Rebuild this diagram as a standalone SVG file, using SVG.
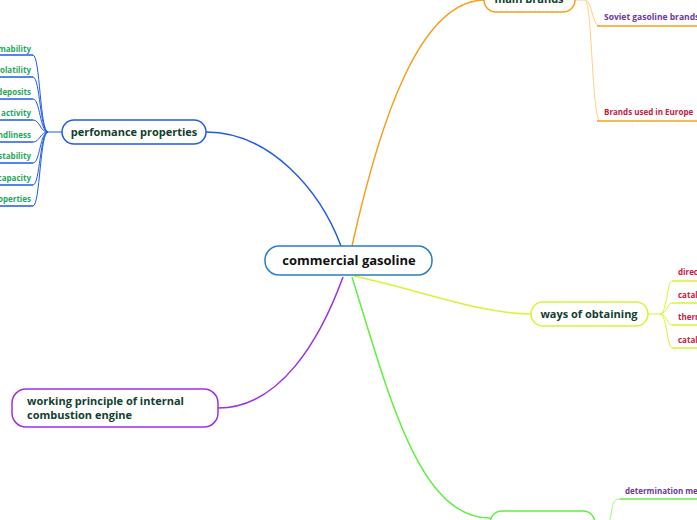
<svg xmlns="http://www.w3.org/2000/svg" width="697" height="520" viewBox="0 0 697 520">
<style>
text{font-family:"Open Sans","Noto Sans",sans-serif;font-weight:bold}
.t{font-size:11px;fill:#12402f}
.l{font-size:8px}
.g{fill:#1fa85a}
</style>
<rect width="697" height="520" fill="#fff"/>
<g id="connectors" fill="none">
<path d="M341,246 C320,190 270,132 206,132" stroke="#1f5ae6" stroke-width="1.5"/>
<path d="M352,246 C380,120 420,0 485,0" stroke="#f5a020" stroke-width="1.5"/>
<path d="M343,277 C320,340 280,408 218,408" stroke="#9b30e8" stroke-width="1.5"/>
<path d="M354,276 C420,290 480,314 531,314" stroke="#d4f535" stroke-width="1.5"/>
<path d="M352,277 C390,400 420,518 490,518" stroke="#60f040" stroke-width="1.5"/>
<g stroke="#1f5ae6" stroke-width="1">
<path d="M62,132 H48"/>
<path d="M48,132 C40,132 40,55 33,55"/><path d="M48,132 C40,132 40,77 33,77"/>
<path d="M48,132 C40,132 40,99 33,99"/><path d="M48,132 C40,132 40,120 33,120"/>
<path d="M48,132 C40,132 40,142 33,142"/><path d="M48,132 C40,132 40,163 33,163"/>
<path d="M48,132 C40,132 40,185 33,185"/><path d="M48,132 C40,132 40,206 33,206"/>
</g>
<g stroke="#1f5ae6" stroke-width="1.5">
<path d="M0,55 H33"/><path d="M0,77 H33"/><path d="M0,99 H33"/><path d="M0,120 H33"/>
<path d="M0,142 H33"/><path d="M0,163 H33"/><path d="M0,185 H33"/><path d="M0,206 H33"/>
</g>
<g stroke="#ffd080" stroke-width="1">
<path d="M575,0 H585 C592,0 592,26 600,26"/><path d="M585,0 C592,0 592,121 600,121"/>
</g>
<g stroke="#f5a020" stroke-width="1.5"><path d="M597,26 H697"/><path d="M597,121 H697"/></g>
<g stroke="#d4f535" stroke-width="1">
<path d="M648,314 H660"/>
<path d="M660,314 C667,314 667,281 672,281"/><path d="M660,314 C667,314 667,303 672,303"/>
<path d="M660,314 C667,314 667,325 672,325"/><path d="M660,314 C667,314 667,348 672,348"/>
</g>
<g stroke="#d4f535" stroke-width="1.5"><path d="M672,281 H697"/><path d="M672,303 H697"/><path d="M672,325 H697"/><path d="M672,348 H697"/></g>
<path d="M610,520 C613,505 612,499 620,499" stroke="#a0f080" stroke-width="1"/>
<path d="M620,499 H697" stroke="#60f040" stroke-width="1.5"/>
</g>
<g id="central"><rect x="265" y="246" width="167" height="29" rx="14" fill="#fff" stroke="#2a7fc0" stroke-width="1.5"/><text x="349" y="265" text-anchor="middle" font-size="13" fill="#111">commercial gasoline</text></g>
<g id="perf"><rect x="62" y="120" width="144" height="24" rx="12" fill="#fff" stroke="#1f5ae6" stroke-width="1.5"/><text class="t" x="134" y="136" text-anchor="middle">perfomance properties</text></g>
<g id="perf-leaves" text-anchor="end">
<text class="l g" x="31" y="52">mability</text><text class="l g" x="31" y="73">volatility</text>
<text class="l g" x="31" y="95">deposits</text><text class="l g" x="31" y="116">n activity</text>
<text class="l g" x="31" y="138">ndliness</text><text class="l g" x="31" y="159">stability</text>
<text class="l g" x="31" y="181">capacity</text><text class="l g" x="31" y="202">operties</text>
</g>
<g id="brands"><rect x="484" y="-12" width="91" height="24" rx="12" fill="#fff" stroke="#f5a020" stroke-width="1.5"/><text class="t" x="529" y="3" text-anchor="middle">main brands</text></g>
<g id="soviet"><text x="604" y="20" font-size="8.5" fill="#6a3a9a">Soviet gasoline brands</text></g>
<g id="europe"><text class="l" x="604" y="115" fill="#c8203f">Brands used in Europe</text></g>
<g id="ways"><rect x="531" y="302" width="117" height="24" rx="12" fill="#fff" stroke="#d4f535" stroke-width="1.5"/><text class="t" x="589" y="318" text-anchor="middle">ways of obtaining</text></g>
<g id="ways-leaves">
<text class="l" x="678" y="275" fill="#c8203f">direct</text><text class="l" x="678" y="298" fill="#c8203f">catalytic</text>
<text class="l" x="678" y="320" fill="#c8203f">thermal</text><text class="l" x="678" y="343" fill="#c8203f">catalytic</text>
</g>
<g id="working"><rect x="12" y="389" width="206" height="38" rx="14" fill="#fff" stroke="#9b30e8" stroke-width="1.5"/><text class="t" x="27" y="405">working principle of internal</text><text class="t" x="27" y="419">combustion engine</text></g>
<g id="bottom"><rect x="490" y="511" width="105" height="24" rx="12" fill="#fff" stroke="#60f040" stroke-width="1.5"/></g>
<g id="determination"><text class="l" x="625" y="494" fill="#6a3a9a">determination methods</text></g>
</svg>
